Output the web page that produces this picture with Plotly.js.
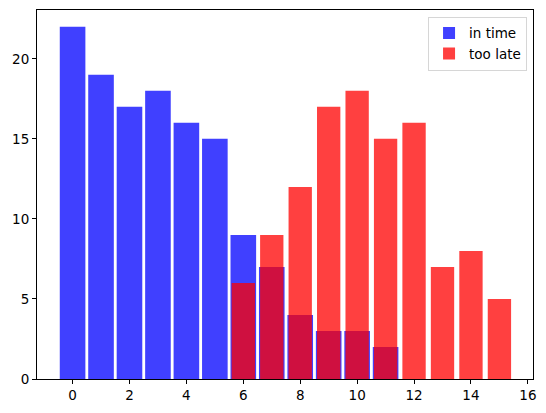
<!DOCTYPE html>
<html>
<head>
<meta charset="utf-8">
<script src="https://cdn.plot.ly/plotly-3.0.1.min.js"></script>
<style>
  body { margin: 0; background: white; }
  #chart { width: 546px; height: 413px; }
</style>
</head>
<body>
<div id="chart"></div>
<script>
// counts per bin
var inTimeX = [0, 1, 2, 3, 4, 5, 6, 7, 8, 9, 10, 11]
var inTimeY = [22, 19, 17, 18, 16, 15, 9, 7, 4, 3, 3, 2]

var tooLateX = [6, 7, 8, 9, 10, 11, 12, 13, 14, 15]
var tooLateY = [6, 9, 12, 17, 18, 15, 16, 7, 8, 5]

var traceInTime = {
    x: inTimeX,
    y: inTimeY,
    type: 'bar',
    name: 'in time',
    width: 0.9,
    marker: { color: 'rgba(0,0,255,0.75)', line: { width: 0 } }
}

var traceTooLate = {
    x: tooLateX,
    y: tooLateY,
    type: 'bar',
    name: 'too late',
    width: 0.82,
    marker: { color: 'rgba(255,0,0,0.75)', line: { width: 0 } }
}

var axisFont = { family: 'DejaVu Sans', size: 13.5, color: '#000' }

var layout = {
    width: 546,
    height: 413,
    margin: { l: 37, r: 13, t: 10, b: 34 },
    paper_bgcolor: 'white',
    plot_bgcolor: 'white',
    barmode: 'overlay',
    showlegend: true,
    legend: {
        x: 0.988, y: 0.982, xanchor: 'right', yanchor: 'top',
        bgcolor: 'rgba(255,255,255,0.8)',
        bordercolor: '#d6d6d6', borderwidth: 1,
        font: axisFont
    },
    xaxis: {
        range: [-1.25, 16.18],
        tickmode: 'array',
        tickvals: [0, 2, 4, 6, 8, 10, 12, 14, 16],
        ticks: 'outside', ticklen: 4, tickcolor: '#000',
        showgrid: false, zeroline: false,
        showline: true, linecolor: '#000', linewidth: 1, mirror: true,
        tickfont: axisFont
    },
    yaxis: {
        range: [0, 23.05],
        tickmode: 'array',
        tickvals: [0, 5, 10, 15, 20],
        ticks: 'outside', ticklen: 4, tickcolor: '#000',
        showgrid: false, zeroline: false,
        showline: true, linecolor: '#000', linewidth: 1, mirror: true,
        tickfont: axisFont
    }
}

Plotly.newPlot('chart', [traceInTime, traceTooLate], layout, { displayModeBar: false, staticPlot: true })
</script>
</body>
</html>
